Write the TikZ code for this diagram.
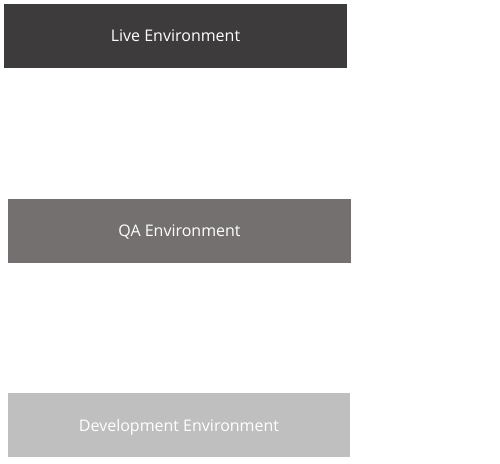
\documentclass[tikz,border=0pt]{standalone}
\usepackage{fontspec}
\setmainfont{Open Sans}
\definecolor{liveenv}{HTML}{3D3B3B}
\definecolor{qaenv}{HTML}{747070}
\definecolor{devenv}{HTML}{BFBFBF}

\begin{document}
\begin{tikzpicture}[x=1pt,y=-1pt,
  envbox/.style={minimum width=343pt,minimum height=64pt,inner sep=0pt,
                 text depth=0pt,text=white,font=\fontsize{16}{19}\selectfont}]
  \useasboundingbox (0,0) rectangle (500,463);
  \node[envbox,fill=liveenv] (live) at (175.5, 36.0) {Live Environment};
  \node[envbox,fill=qaenv]   (qa)   at (179.5,230.5) {QA Environment};
  \node[envbox,fill=devenv,minimum width=342pt] (dev) at (179.0,425.0) {Development Environment};
\end{tikzpicture}
\end{document}
